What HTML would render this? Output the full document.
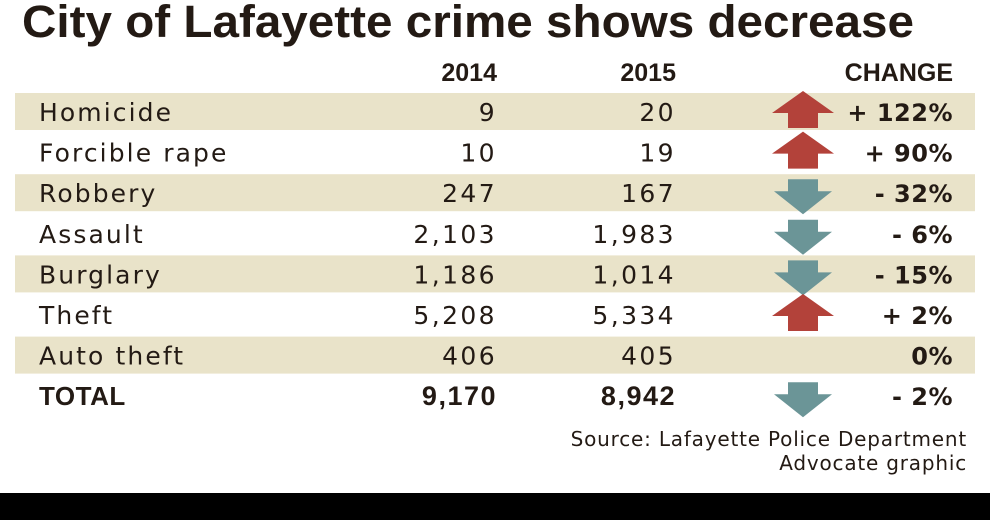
<!DOCTYPE html>
<html><head><meta charset="utf-8"><style>
body{margin:0;width:990px;height:520px;background:#fff;overflow:hidden;font-family:"Liberation Sans",sans-serif}
svg{display:block}
.b{font-family:"DejaVu Sans",sans-serif}
</style></head><body>
<svg id="c" width="990" height="520">
<text x="22" y="37" font-size="45" font-weight="bold" fill="#231a14" textLength="892" lengthAdjust="spacingAndGlyphs">City of Lafayette crime shows decrease</text>
<text x="497" y="81" text-anchor="end" font-size="25" font-weight="bold" fill="#231a14">2014</text>
<text x="676" y="81" text-anchor="end" font-size="25" font-weight="bold" fill="#231a14">2015</text>
<text x="953" y="81" text-anchor="end" font-size="25" font-weight="bold" fill="#231a14">CHANGE</text>
<g id="rows"></g>
<text class="b" x="967" y="446" text-anchor="end" font-size="20" fill="#231a14" letter-spacing="0.8">Source: Lafayette Police Department</text>
<text class="b" x="967" y="470" text-anchor="end" font-size="20" fill="#231a14" letter-spacing="0.8">Advocate graphic</text>
<rect x="0" y="493" width="990" height="27" fill="#000"/>
</svg>
<script>
const categories=["Homicide","Forcible rape","Robbery","Assault","Burglary","Theft","Auto theft","TOTAL"];
const values2014=[9,10,247,2103,1186,5208,406,9170];
const values2015=[20,19,167,1983,1014,5334,405,8942];
const changes=["+ 122%","+ 90%","- 32%","- 6%","- 15%","+ 2%","0%","- 2%"];
const NS="http://www.w3.org/2000/svg";
const g=document.getElementById('rows');
function mk(t,a){const e=document.createElementNS(NS,t);for(const k in a)e.setAttribute(k,a[k]);return e;}
const rowY=i=>93+i*40.6;
const fmt=v=>v.toLocaleString('en-US');
categories.forEach((c,i)=>{
  const y=rowY(i),base=y+28,bold=i===categories.length-1;
  if(i%2===0&&i<7){const r=mk('rect',{x:15,y:y,width:960,height:37,fill:'#e9e3c9'});
    
    g.appendChild(r);}
  const t1=mk('text',{class:bold?'':'b',x:39,y:base,'font-size':bold?26:25,fill:'#231a14','font-weight':bold?'bold':'normal','letter-spacing':bold?0.5:2.1});t1.textContent=c;
  
  g.appendChild(t1);
  const t2=mk('text',{class:bold?'':'b',x:497,y:base,'font-size':bold?27:25,'text-anchor':'end',fill:'#231a14','font-weight':bold?'bold':'normal','letter-spacing':bold?1.5:2.4});t2.textContent=fmt(values2014[i]);
  
  g.appendChild(t2);
  const t3=mk('text',{class:bold?'':'b',x:676,y:base,'font-size':bold?27:25,'text-anchor':'end',fill:'#231a14','font-weight':bold?'bold':'normal','letter-spacing':bold?1.5:2.4});t3.textContent=fmt(values2015[i]);
  
  g.appendChild(t3);
  const t4=mk('text',{class:'b',x:953,y:base,'font-size':24,'text-anchor':'end','font-weight':'bold',fill:'#231a14','letter-spacing':0.5});t4.textContent=changes[i];
  
  g.appendChild(t4);
  const d=values2015[i]-values2014[i],cx=803;
  const pct=Math.round(d/values2014[i]*100);
  if(pct!==0){
    let pts;
    if(d>0){const t=y-2;pts=`${cx},${t} ${cx+31},${t+22} ${cx+15},${t+22} ${cx+15},${t+37} ${cx-15},${t+37} ${cx-15},${t+22} ${cx-31},${t+22}`;}
    else{const t=y+5;pts=`${cx-15},${t} ${cx+15},${t} ${cx+15},${t+12} ${cx+29},${t+12} ${cx},${t+35} ${cx-29},${t+12} ${cx-15},${t+12}`;}
    const p=mk('polygon',{points:pts,fill:d>0?'#b3423a':'#6b9597'});
    
    g.appendChild(p);
  }
});
</script>
</body></html>
